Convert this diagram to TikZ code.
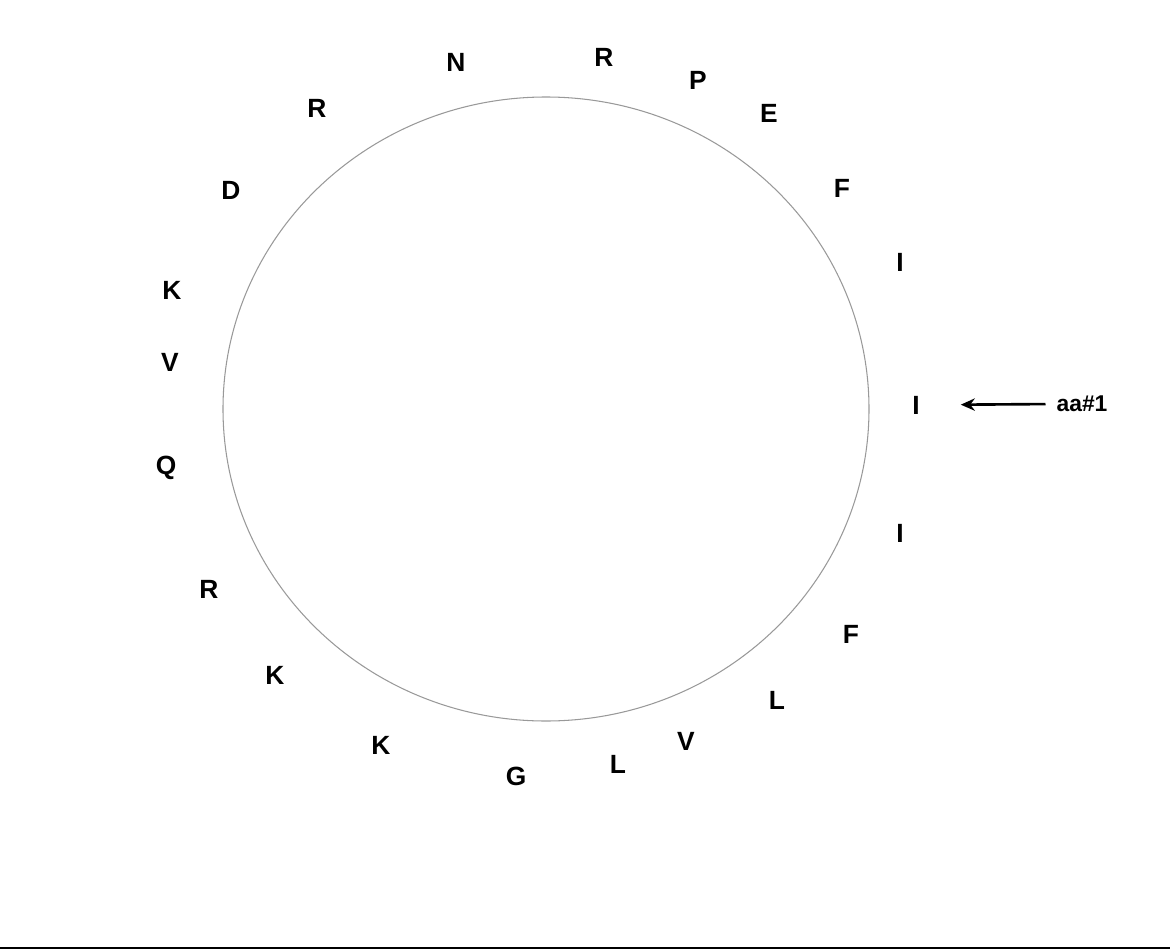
\documentclass[tikz,border=0pt]{standalone}
\usepackage{fontspec}
\setmainfont{Liberation Sans}
\usetikzlibrary{arrows.meta,positioning}
\tikzset{>={Stealth[length=8pt,width=7pt]}}
\tikzset{res/.style={font=\fontsize{15}{17}\selectfont\bfseries, inner sep=1pt}}

\begin{document}
\begin{tikzpicture}[x=0.02cm,y=-0.02cm]
      \useasboundingbox (0,0) rectangle (1170,950);
      \coordinate (c) at (546,409);
      \draw[gray!80,line width=0.6pt] (c) ellipse [x radius=323, y radius=312];
      \node[res] (r1) at (916,405) {I};
      \node[res] (r2) at (900,262) {I};
      \node[res] (r3) at (842,188) {F};
      \node[res] (r4) at (769,113) {E};
      \node[res] (r5) at (698,80) {P};
      \node[res] (r6) at (604,57) {R};
      \node[res] (r7) at (456,62) {N};
      \node[res] (r8) at (317,108) {R};
      \node[res] (r9) at (231,190) {D};
      \node[res] (r10) at (172,290) {K};
      \node[res] (r11) at (170,362) {V};
      \node[res] (r12) at (166,468) {Q};
      \node[res] (r13) at (209,589) {R};
      \node[res] (r14) at (275,675) {K};
      \node[res] (r15) at (381,745) {K};
      \node[res] (r16) at (516,776) {G};
      \node[res] (r17) at (618,764) {L};
      \node[res] (r18) at (686,741) {V};
      \node[res] (r19) at (777,700) {L};
      \node[res] (r20) at (851,634) {F};
      \node[res] (r21) at (900,533) {I};
      \node[font=\fontsize{13}{15}\selectfont\bfseries, inner sep=1pt] (lab) at (1082,404) {aa\#1};
      \draw[->,line width=1.5pt,shorten >=0.78cm,shorten <=0.18cm] (lab.west) -- (r1);
      \draw[line width=1pt] (0,948) -- (1170,948);
    \end{tikzpicture}
\end{document}
